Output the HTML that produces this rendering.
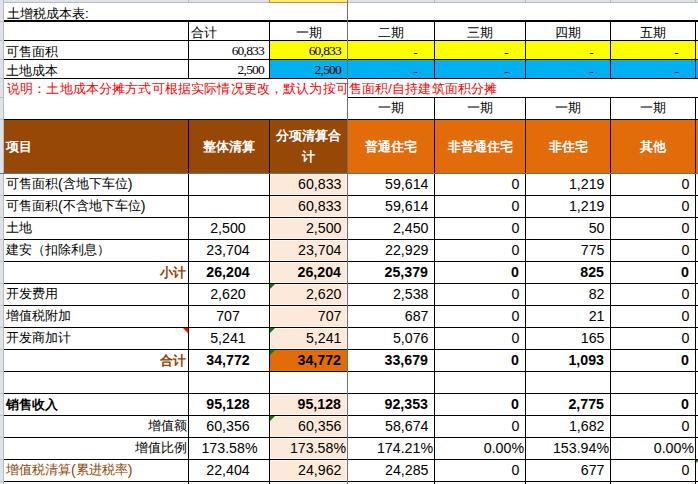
<!DOCTYPE html>
<html><head><meta charset="utf-8"><style>
html,body{margin:0;padding:0;}
body{width:698px;height:484px;position:relative;overflow:hidden;background:#fff;font-family:"Liberation Sans",sans-serif;}
body>div{position:absolute;box-sizing:border-box;}
.t{white-space:nowrap;overflow:visible;}
</style></head><body>
<div style="left:0px;top:0px;width:698px;height:484px;background:#fff"></div>
<div style="left:270px;top:41px;width:77px;height:18px;background:#ffff00"></div>
<div style="left:348px;top:41px;width:86px;height:18px;background:#ffff00"></div>
<div style="left:435px;top:41px;width:90px;height:18px;background:#ffff00"></div>
<div style="left:526px;top:41px;width:84px;height:18px;background:#ffff00"></div>
<div style="left:611px;top:41px;width:84px;height:18px;background:#ffff00"></div>
<div style="left:696px;top:41px;width:2px;height:18px;background:#ffff00"></div>
<div style="left:270px;top:60px;width:77px;height:18px;background:#00b0f0"></div>
<div style="left:348px;top:60px;width:86px;height:18px;background:#00b0f0"></div>
<div style="left:435px;top:60px;width:90px;height:18px;background:#00b0f0"></div>
<div style="left:526px;top:60px;width:84px;height:18px;background:#00b0f0"></div>
<div style="left:611px;top:60px;width:84px;height:18px;background:#00b0f0"></div>
<div style="left:696px;top:60px;width:2px;height:18px;background:#00b0f0"></div>
<div style="left:4px;top:120px;width:343px;height:53px;background:#974706"></div>
<div style="left:348px;top:120px;width:350px;height:53px;background:#e26b0a"></div>
<div style="left:270px;top:174px;width:77px;height:21px;background:#fff5ec"></div>
<div style="left:271px;top:175px;width:75px;height:19px;background:#fde9d9"></div>
<div style="left:270px;top:196px;width:77px;height:21px;background:#fff5ec"></div>
<div style="left:271px;top:197px;width:75px;height:19px;background:#fde9d9"></div>
<div style="left:270px;top:218px;width:77px;height:21px;background:#fff5ec"></div>
<div style="left:271px;top:219px;width:75px;height:19px;background:#fde9d9"></div>
<div style="left:270px;top:240px;width:77px;height:21px;background:#fff5ec"></div>
<div style="left:271px;top:241px;width:75px;height:19px;background:#fde9d9"></div>
<div style="left:270px;top:262px;width:77px;height:21px;background:#fff5ec"></div>
<div style="left:271px;top:263px;width:75px;height:19px;background:#fde9d9"></div>
<div style="left:270px;top:284px;width:77px;height:21px;background:#fff5ec"></div>
<div style="left:271px;top:285px;width:75px;height:19px;background:#fde9d9"></div>
<div style="left:270px;top:306px;width:77px;height:21px;background:#fff5ec"></div>
<div style="left:271px;top:307px;width:75px;height:19px;background:#fde9d9"></div>
<div style="left:270px;top:328px;width:77px;height:21px;background:#fff5ec"></div>
<div style="left:271px;top:329px;width:75px;height:19px;background:#fde9d9"></div>
<div style="left:270px;top:350px;width:77px;height:21px;background:#e26b0a"></div>
<div style="left:270px;top:372px;width:77px;height:21px;background:#fff"></div>
<div style="left:270px;top:394px;width:77px;height:21px;background:#fff5ec"></div>
<div style="left:271px;top:395px;width:75px;height:19px;background:#fde9d9"></div>
<div style="left:270px;top:416px;width:77px;height:21px;background:#fff5ec"></div>
<div style="left:271px;top:417px;width:75px;height:19px;background:#fde9d9"></div>
<div style="left:270px;top:438px;width:77px;height:21px;background:#fff5ec"></div>
<div style="left:271px;top:439px;width:75px;height:19px;background:#fde9d9"></div>
<div style="left:270px;top:460px;width:77px;height:21px;background:#fff5ec"></div>
<div style="left:271px;top:461px;width:75px;height:19px;background:#fde9d9"></div>
<div style="left:0px;top:0px;width:698px;height:2px;background:#dfe3e8"></div>
<div style="left:0px;top:2px;width:698px;height:1px;background:#b9bdc2"></div>
<div style="left:0px;top:0px;width:3px;height:484px;background:#dfe3e8"></div>
<div style="left:3px;top:0px;width:1px;height:484px;background:#b9bdc2"></div>
<div style="left:188px;top:0px;width:1px;height:2px;background:#b9bdc2"></div>
<div style="left:434px;top:0px;width:1px;height:2px;background:#b9bdc2"></div>
<div style="left:525px;top:0px;width:1px;height:2px;background:#b9bdc2"></div>
<div style="left:610px;top:0px;width:1px;height:2px;background:#b9bdc2"></div>
<div style="left:695px;top:0px;width:1px;height:2px;background:#b9bdc2"></div>
<div style="left:269px;top:0px;width:78px;height:3px;background:#ffe97a"></div>
<div style="left:269px;top:0px;width:1px;height:3px;background:#d18c2a"></div>
<div style="left:269px;top:2px;width:78px;height:1px;background:#d18c2a"></div>
<div style="left:0px;top:21px;width:3px;height:1px;background:#b9bdc2"></div>
<div style="left:0px;top:40px;width:3px;height:1px;background:#b9bdc2"></div>
<div style="left:0px;top:59px;width:3px;height:1px;background:#b9bdc2"></div>
<div style="left:0px;top:78px;width:3px;height:1px;background:#b9bdc2"></div>
<div style="left:0px;top:97px;width:3px;height:1px;background:#b9bdc2"></div>
<div style="left:0px;top:119px;width:3px;height:1px;background:#b9bdc2"></div>
<div style="left:0px;top:195px;width:3px;height:1px;background:#b9bdc2"></div>
<div style="left:0px;top:217px;width:3px;height:1px;background:#b9bdc2"></div>
<div style="left:0px;top:239px;width:3px;height:1px;background:#b9bdc2"></div>
<div style="left:0px;top:261px;width:3px;height:1px;background:#b9bdc2"></div>
<div style="left:0px;top:283px;width:3px;height:1px;background:#b9bdc2"></div>
<div style="left:0px;top:305px;width:3px;height:1px;background:#b9bdc2"></div>
<div style="left:0px;top:327px;width:3px;height:1px;background:#b9bdc2"></div>
<div style="left:0px;top:349px;width:3px;height:1px;background:#b9bdc2"></div>
<div style="left:0px;top:371px;width:3px;height:1px;background:#b9bdc2"></div>
<div style="left:0px;top:393px;width:3px;height:1px;background:#b9bdc2"></div>
<div style="left:0px;top:415px;width:3px;height:1px;background:#b9bdc2"></div>
<div style="left:0px;top:437px;width:3px;height:1px;background:#b9bdc2"></div>
<div style="left:0px;top:459px;width:3px;height:1px;background:#b9bdc2"></div>
<div style="left:0px;top:481px;width:3px;height:1px;background:#b9bdc2"></div>
<div style="left:4px;top:20px;width:694px;height:2px;background:#000"></div>
<div style="left:4px;top:40px;width:694px;height:1px;background:#000"></div>
<div style="left:4px;top:59px;width:694px;height:1px;background:#000"></div>
<div style="left:4px;top:78px;width:694px;height:1px;background:#000"></div>
<div style="left:348px;top:97px;width:350px;height:1px;background:#000"></div>
<div style="left:4px;top:119px;width:694px;height:1px;background:#000"></div>
<div style="left:4px;top:195px;width:694px;height:1px;background:#000"></div>
<div style="left:4px;top:217px;width:694px;height:1px;background:#000"></div>
<div style="left:4px;top:239px;width:694px;height:1px;background:#000"></div>
<div style="left:4px;top:261px;width:694px;height:1px;background:#000"></div>
<div style="left:4px;top:283px;width:694px;height:1px;background:#000"></div>
<div style="left:4px;top:305px;width:694px;height:1px;background:#000"></div>
<div style="left:4px;top:327px;width:694px;height:1px;background:#000"></div>
<div style="left:4px;top:349px;width:694px;height:1px;background:#000"></div>
<div style="left:4px;top:371px;width:694px;height:1px;background:#000"></div>
<div style="left:4px;top:393px;width:694px;height:1px;background:#000"></div>
<div style="left:4px;top:415px;width:694px;height:1px;background:#000"></div>
<div style="left:4px;top:437px;width:694px;height:1px;background:#000"></div>
<div style="left:4px;top:459px;width:694px;height:1px;background:#000"></div>
<div style="left:4px;top:481px;width:694px;height:1px;background:#000"></div>
<div style="left:188px;top:22px;width:1px;height:56px;background:#000"></div>
<div style="left:269px;top:22px;width:1px;height:56px;background:#000"></div>
<div style="left:434px;top:22px;width:1px;height:56px;background:#000"></div>
<div style="left:525px;top:22px;width:1px;height:56px;background:#000"></div>
<div style="left:610px;top:22px;width:1px;height:56px;background:#000"></div>
<div style="left:695px;top:22px;width:1px;height:56px;background:#000"></div>
<div style="left:434px;top:98px;width:1px;height:21px;background:#000"></div>
<div style="left:525px;top:98px;width:1px;height:21px;background:#000"></div>
<div style="left:610px;top:98px;width:1px;height:21px;background:#000"></div>
<div style="left:695px;top:98px;width:1px;height:21px;background:#000"></div>
<div style="left:188px;top:120px;width:1px;height:364px;background:#000"></div>
<div style="left:269px;top:120px;width:1px;height:364px;background:#000"></div>
<div style="left:434px;top:120px;width:1px;height:364px;background:#000"></div>
<div style="left:525px;top:120px;width:1px;height:364px;background:#000"></div>
<div style="left:610px;top:120px;width:1px;height:364px;background:#000"></div>
<div style="left:695px;top:120px;width:1px;height:364px;background:#000"></div>
<div style="left:0px;top:173px;width:698px;height:1px;background:#707070"></div>
<div style="left:347px;top:0px;width:1px;height:484px;background:#707070"></div>
<div class="t" style="left:4px;top:5px;width:183px;height:17px;line-height:17px;text-align:left;color:#000;font-family:'Liberation Sans',sans-serif;font-size:13px;padding-left:3px;">土增税成本表:</div>
<div class="t" style="left:189px;top:24px;width:79px;height:18px;line-height:18px;text-align:left;color:#000;font-family:'Liberation Sans',sans-serif;font-size:13px;padding-left:2px;">合计</div>
<div class="t" style="left:270px;top:24px;width:77px;height:18px;line-height:18px;text-align:center;color:#000;font-family:'Liberation Sans',sans-serif;font-size:13px;">一期</div>
<div class="t" style="left:348px;top:24px;width:86px;height:18px;line-height:18px;text-align:center;color:#000;font-family:'Liberation Sans',sans-serif;font-size:13px;">二期</div>
<div class="t" style="left:435px;top:24px;width:90px;height:18px;line-height:18px;text-align:center;color:#000;font-family:'Liberation Sans',sans-serif;font-size:13px;">三期</div>
<div class="t" style="left:526px;top:24px;width:84px;height:18px;line-height:18px;text-align:center;color:#000;font-family:'Liberation Sans',sans-serif;font-size:13px;">四期</div>
<div class="t" style="left:611px;top:24px;width:84px;height:18px;line-height:18px;text-align:center;color:#000;font-family:'Liberation Sans',sans-serif;font-size:13px;">五期</div>
<div class="t" style="left:4px;top:43px;width:183px;height:18px;line-height:18px;text-align:left;color:#000;font-family:'Liberation Sans',sans-serif;font-size:13px;padding-left:2px;">可售面积</div>
<div class="t" style="left:4px;top:62px;width:183px;height:18px;line-height:18px;text-align:left;color:#000;font-family:'Liberation Sans',sans-serif;font-size:13px;padding-left:2px;">土地成本</div>
<div class="t" style="left:189px;top:42px;width:79px;height:18px;line-height:18px;text-align:right;color:#000;font-family:'Liberation Serif',serif;font-size:13.5px;letter-spacing:-0.8px;padding-right:4px;">60,833</div>
<div class="t" style="left:189px;top:61px;width:79px;height:18px;line-height:18px;text-align:right;color:#000;font-family:'Liberation Serif',serif;font-size:13.5px;letter-spacing:-0.8px;padding-right:4px;">2,500</div>
<div class="t" style="left:270px;top:42px;width:77px;height:18px;line-height:18px;text-align:right;color:#000;font-family:'Liberation Serif',serif;font-size:13.5px;letter-spacing:-0.8px;padding-right:6px;">60,833</div>
<div class="t" style="left:270px;top:61px;width:77px;height:18px;line-height:18px;text-align:right;color:#000;font-family:'Liberation Serif',serif;font-size:13.5px;letter-spacing:-0.8px;padding-right:6px;">2,500</div>
<div class="t" style="left:348px;top:44px;width:86px;height:18px;line-height:18px;text-align:right;color:#000;font-family:'Liberation Serif',serif;font-size:13.5px;letter-spacing:-0.8px;padding-right:17px;">-</div>
<div class="t" style="left:348px;top:63px;width:86px;height:18px;line-height:18px;text-align:right;color:#000;font-family:'Liberation Serif',serif;font-size:13.5px;letter-spacing:-0.8px;padding-right:17px;">-</div>
<div class="t" style="left:435px;top:44px;width:90px;height:18px;line-height:18px;text-align:right;color:#000;font-family:'Liberation Serif',serif;font-size:13.5px;letter-spacing:-0.8px;padding-right:17px;">-</div>
<div class="t" style="left:435px;top:63px;width:90px;height:18px;line-height:18px;text-align:right;color:#000;font-family:'Liberation Serif',serif;font-size:13.5px;letter-spacing:-0.8px;padding-right:17px;">-</div>
<div class="t" style="left:526px;top:44px;width:84px;height:18px;line-height:18px;text-align:right;color:#000;font-family:'Liberation Serif',serif;font-size:13.5px;letter-spacing:-0.8px;padding-right:17px;">-</div>
<div class="t" style="left:526px;top:63px;width:84px;height:18px;line-height:18px;text-align:right;color:#000;font-family:'Liberation Serif',serif;font-size:13.5px;letter-spacing:-0.8px;padding-right:17px;">-</div>
<div class="t" style="left:611px;top:44px;width:84px;height:18px;line-height:18px;text-align:right;color:#000;font-family:'Liberation Serif',serif;font-size:13.5px;letter-spacing:-0.8px;padding-right:17px;">-</div>
<div class="t" style="left:611px;top:63px;width:84px;height:18px;line-height:18px;text-align:right;color:#000;font-family:'Liberation Serif',serif;font-size:13.5px;letter-spacing:-0.8px;padding-right:17px;">-</div>
<div class="t" style="left:4px;top:80px;width:596px;height:18px;line-height:18px;text-align:left;color:#ff0000;font-family:'Liberation Sans',sans-serif;font-size:13px;letter-spacing:0.15px;padding-left:3px;">说明：土地成本分摊方式可根据实际情况更改，默认为按可售面积/自持建筑面积分摊</div>
<div class="t" style="left:348px;top:97px;width:86px;height:21px;line-height:21px;text-align:center;color:#000;font-family:'Liberation Sans',sans-serif;font-size:13px;">一期</div>
<div class="t" style="left:435px;top:97px;width:90px;height:21px;line-height:21px;text-align:center;color:#000;font-family:'Liberation Sans',sans-serif;font-size:13px;">一期</div>
<div class="t" style="left:526px;top:97px;width:84px;height:21px;line-height:21px;text-align:center;color:#000;font-family:'Liberation Sans',sans-serif;font-size:13px;">一期</div>
<div class="t" style="left:611px;top:97px;width:84px;height:21px;line-height:21px;text-align:center;color:#000;font-family:'Liberation Sans',sans-serif;font-size:13px;">一期</div>
<div class="t" style="left:4px;top:120px;width:184px;height:53px;line-height:53px;text-align:left;color:#fff;font-family:'Liberation Sans',sans-serif;font-size:13.45px;font-weight:bold;padding-left:2px;">项目</div>
<div class="t" style="left:189px;top:120px;width:80px;height:53px;line-height:53px;text-align:center;color:#fff;font-family:'Liberation Sans',sans-serif;font-size:13.45px;font-weight:bold;">整体清算</div>
<div class="t" style="left:270px;top:125px;width:77px;height:42px;line-height:21px;text-align:center;color:#fff;font-family:'Liberation Sans',sans-serif;font-size:13.45px;font-weight:bold;white-space:normal">分项清算合<br>计</div>
<div class="t" style="left:348px;top:120px;width:86px;height:53px;line-height:53px;text-align:center;color:#fff;font-family:'Liberation Sans',sans-serif;font-size:13.45px;font-weight:bold;">普通住宅</div>
<div class="t" style="left:435px;top:120px;width:90px;height:53px;line-height:53px;text-align:center;color:#fff;font-family:'Liberation Sans',sans-serif;font-size:13.45px;font-weight:bold;">非普通住宅</div>
<div class="t" style="left:526px;top:120px;width:84px;height:53px;line-height:53px;text-align:center;color:#fff;font-family:'Liberation Sans',sans-serif;font-size:13.45px;font-weight:bold;">非住宅</div>
<div class="t" style="left:611px;top:120px;width:84px;height:53px;line-height:53px;text-align:center;color:#fff;font-family:'Liberation Sans',sans-serif;font-size:13.45px;font-weight:bold;">其他</div>
<div class="t" style="left:4px;top:174px;width:184px;height:21px;line-height:21px;text-align:left;color:#000;font-family:'Liberation Sans',sans-serif;font-size:14.2px;padding-left:2px;"><span style="font-size:13px;position:relative;top:-1px;">可售面积</span>(<span style="font-size:13px;position:relative;top:-1px;">含地下车位</span>)</div>
<div class="t" style="left:188px;top:174px;width:80px;height:21px;line-height:21px;text-align:center;color:#000;font-family:'Liberation Sans',sans-serif;font-size:14.2px;"></div>
<div class="t" style="left:270px;top:174px;width:77px;height:21px;line-height:21px;text-align:right;color:#000;font-family:'Liberation Sans',sans-serif;font-size:14.2px;padding-right:5.5px;">60,833</div>
<div class="t" style="left:348px;top:174px;width:86px;height:21px;line-height:21px;text-align:right;color:#000;font-family:'Liberation Sans',sans-serif;font-size:14.2px;padding-right:5.5px;">59,614</div>
<div class="t" style="left:435px;top:174px;width:90px;height:21px;line-height:21px;text-align:right;color:#000;font-family:'Liberation Sans',sans-serif;font-size:14.2px;padding-right:5.5px;">0</div>
<div class="t" style="left:526px;top:174px;width:84px;height:21px;line-height:21px;text-align:right;color:#000;font-family:'Liberation Sans',sans-serif;font-size:14.2px;padding-right:5.5px;">1,219</div>
<div class="t" style="left:611px;top:174px;width:84px;height:21px;line-height:21px;text-align:right;color:#000;font-family:'Liberation Sans',sans-serif;font-size:14.2px;padding-right:5.5px;">0</div>
<div class="t" style="left:4px;top:196px;width:184px;height:21px;line-height:21px;text-align:left;color:#000;font-family:'Liberation Sans',sans-serif;font-size:14.2px;padding-left:2px;"><span style="font-size:13px;position:relative;top:-1px;">可售面积</span>(<span style="font-size:13px;position:relative;top:-1px;">不含地下车位</span>)</div>
<div class="t" style="left:188px;top:196px;width:80px;height:21px;line-height:21px;text-align:center;color:#000;font-family:'Liberation Sans',sans-serif;font-size:14.2px;"></div>
<div class="t" style="left:270px;top:196px;width:77px;height:21px;line-height:21px;text-align:right;color:#000;font-family:'Liberation Sans',sans-serif;font-size:14.2px;padding-right:5.5px;">60,833</div>
<div class="t" style="left:348px;top:196px;width:86px;height:21px;line-height:21px;text-align:right;color:#000;font-family:'Liberation Sans',sans-serif;font-size:14.2px;padding-right:5.5px;">59,614</div>
<div class="t" style="left:435px;top:196px;width:90px;height:21px;line-height:21px;text-align:right;color:#000;font-family:'Liberation Sans',sans-serif;font-size:14.2px;padding-right:5.5px;">0</div>
<div class="t" style="left:526px;top:196px;width:84px;height:21px;line-height:21px;text-align:right;color:#000;font-family:'Liberation Sans',sans-serif;font-size:14.2px;padding-right:5.5px;">1,219</div>
<div class="t" style="left:611px;top:196px;width:84px;height:21px;line-height:21px;text-align:right;color:#000;font-family:'Liberation Sans',sans-serif;font-size:14.2px;padding-right:5.5px;">0</div>
<div class="t" style="left:4px;top:218px;width:184px;height:21px;line-height:21px;text-align:left;color:#000;font-family:'Liberation Sans',sans-serif;font-size:14.2px;padding-left:2px;"><span style="font-size:13px;position:relative;top:-1px;">土地</span></div>
<div class="t" style="left:188px;top:218px;width:80px;height:21px;line-height:21px;text-align:center;color:#000;font-family:'Liberation Sans',sans-serif;font-size:14.2px;">2,500</div>
<div class="t" style="left:270px;top:218px;width:77px;height:21px;line-height:21px;text-align:right;color:#000;font-family:'Liberation Sans',sans-serif;font-size:14.2px;padding-right:5.5px;">2,500</div>
<div class="t" style="left:348px;top:218px;width:86px;height:21px;line-height:21px;text-align:right;color:#000;font-family:'Liberation Sans',sans-serif;font-size:14.2px;padding-right:5.5px;">2,450</div>
<div class="t" style="left:435px;top:218px;width:90px;height:21px;line-height:21px;text-align:right;color:#000;font-family:'Liberation Sans',sans-serif;font-size:14.2px;padding-right:5.5px;">0</div>
<div class="t" style="left:526px;top:218px;width:84px;height:21px;line-height:21px;text-align:right;color:#000;font-family:'Liberation Sans',sans-serif;font-size:14.2px;padding-right:5.5px;">50</div>
<div class="t" style="left:611px;top:218px;width:84px;height:21px;line-height:21px;text-align:right;color:#000;font-family:'Liberation Sans',sans-serif;font-size:14.2px;padding-right:5.5px;">0</div>
<div class="t" style="left:4px;top:240px;width:184px;height:21px;line-height:21px;text-align:left;color:#000;font-family:'Liberation Sans',sans-serif;font-size:14.2px;padding-left:2px;"><span style="font-size:13px;position:relative;top:-1px;">建安（扣除利息）</span></div>
<div class="t" style="left:188px;top:240px;width:80px;height:21px;line-height:21px;text-align:center;color:#000;font-family:'Liberation Sans',sans-serif;font-size:14.2px;">23,704</div>
<div class="t" style="left:270px;top:240px;width:77px;height:21px;line-height:21px;text-align:right;color:#000;font-family:'Liberation Sans',sans-serif;font-size:14.2px;padding-right:5.5px;">23,704</div>
<div class="t" style="left:348px;top:240px;width:86px;height:21px;line-height:21px;text-align:right;color:#000;font-family:'Liberation Sans',sans-serif;font-size:14.2px;padding-right:5.5px;">22,929</div>
<div class="t" style="left:435px;top:240px;width:90px;height:21px;line-height:21px;text-align:right;color:#000;font-family:'Liberation Sans',sans-serif;font-size:14.2px;padding-right:5.5px;">0</div>
<div class="t" style="left:526px;top:240px;width:84px;height:21px;line-height:21px;text-align:right;color:#000;font-family:'Liberation Sans',sans-serif;font-size:14.2px;padding-right:5.5px;">775</div>
<div class="t" style="left:611px;top:240px;width:84px;height:21px;line-height:21px;text-align:right;color:#000;font-family:'Liberation Sans',sans-serif;font-size:14.2px;padding-right:5.5px;">0</div>
<div class="t" style="left:4px;top:262px;width:184px;height:21px;line-height:21px;text-align:right;color:#904506;font-family:'Liberation Sans',sans-serif;font-size:14.2px;font-weight:bold;padding-right:2px;"><span style="font-size:13px;position:relative;top:0px;">小计</span></div>
<div class="t" style="left:188px;top:262px;width:80px;height:21px;line-height:21px;text-align:center;color:#000;font-family:'Liberation Sans',sans-serif;font-size:14.2px;font-weight:bold;">26,204</div>
<div class="t" style="left:270px;top:262px;width:77px;height:21px;line-height:21px;text-align:right;color:#000;font-family:'Liberation Sans',sans-serif;font-size:14.2px;font-weight:bold;padding-right:6.0px;">26,204</div>
<div class="t" style="left:348px;top:262px;width:86px;height:21px;line-height:21px;text-align:right;color:#000;font-family:'Liberation Sans',sans-serif;font-size:14.2px;font-weight:bold;padding-right:6.0px;">25,379</div>
<div class="t" style="left:435px;top:262px;width:90px;height:21px;line-height:21px;text-align:right;color:#000;font-family:'Liberation Sans',sans-serif;font-size:14.2px;font-weight:bold;padding-right:6.0px;">0</div>
<div class="t" style="left:526px;top:262px;width:84px;height:21px;line-height:21px;text-align:right;color:#000;font-family:'Liberation Sans',sans-serif;font-size:14.2px;font-weight:bold;padding-right:6.0px;">825</div>
<div class="t" style="left:611px;top:262px;width:84px;height:21px;line-height:21px;text-align:right;color:#000;font-family:'Liberation Sans',sans-serif;font-size:14.2px;font-weight:bold;padding-right:6.0px;">0</div>
<div class="t" style="left:4px;top:284px;width:184px;height:21px;line-height:21px;text-align:left;color:#000;font-family:'Liberation Sans',sans-serif;font-size:14.2px;padding-left:2px;"><span style="font-size:13px;position:relative;top:-1px;">开发费用</span></div>
<div class="t" style="left:188px;top:284px;width:80px;height:21px;line-height:21px;text-align:center;color:#000;font-family:'Liberation Sans',sans-serif;font-size:14.2px;">2,620</div>
<div class="t" style="left:270px;top:284px;width:77px;height:21px;line-height:21px;text-align:right;color:#000;font-family:'Liberation Sans',sans-serif;font-size:14.2px;padding-right:5.5px;">2,620</div>
<div class="t" style="left:348px;top:284px;width:86px;height:21px;line-height:21px;text-align:right;color:#000;font-family:'Liberation Sans',sans-serif;font-size:14.2px;padding-right:5.5px;">2,538</div>
<div class="t" style="left:435px;top:284px;width:90px;height:21px;line-height:21px;text-align:right;color:#000;font-family:'Liberation Sans',sans-serif;font-size:14.2px;padding-right:5.5px;">0</div>
<div class="t" style="left:526px;top:284px;width:84px;height:21px;line-height:21px;text-align:right;color:#000;font-family:'Liberation Sans',sans-serif;font-size:14.2px;padding-right:5.5px;">82</div>
<div class="t" style="left:611px;top:284px;width:84px;height:21px;line-height:21px;text-align:right;color:#000;font-family:'Liberation Sans',sans-serif;font-size:14.2px;padding-right:5.5px;">0</div>
<div class="t" style="left:4px;top:306px;width:184px;height:21px;line-height:21px;text-align:left;color:#000;font-family:'Liberation Sans',sans-serif;font-size:14.2px;padding-left:2px;"><span style="font-size:13px;position:relative;top:-1px;">增值税附加</span></div>
<div class="t" style="left:188px;top:306px;width:80px;height:21px;line-height:21px;text-align:center;color:#000;font-family:'Liberation Sans',sans-serif;font-size:14.2px;">707</div>
<div class="t" style="left:270px;top:306px;width:77px;height:21px;line-height:21px;text-align:right;color:#000;font-family:'Liberation Sans',sans-serif;font-size:14.2px;padding-right:5.5px;">707</div>
<div class="t" style="left:348px;top:306px;width:86px;height:21px;line-height:21px;text-align:right;color:#000;font-family:'Liberation Sans',sans-serif;font-size:14.2px;padding-right:5.5px;">687</div>
<div class="t" style="left:435px;top:306px;width:90px;height:21px;line-height:21px;text-align:right;color:#000;font-family:'Liberation Sans',sans-serif;font-size:14.2px;padding-right:5.5px;">0</div>
<div class="t" style="left:526px;top:306px;width:84px;height:21px;line-height:21px;text-align:right;color:#000;font-family:'Liberation Sans',sans-serif;font-size:14.2px;padding-right:5.5px;">21</div>
<div class="t" style="left:611px;top:306px;width:84px;height:21px;line-height:21px;text-align:right;color:#000;font-family:'Liberation Sans',sans-serif;font-size:14.2px;padding-right:5.5px;">0</div>
<div class="t" style="left:4px;top:328px;width:184px;height:21px;line-height:21px;text-align:left;color:#000;font-family:'Liberation Sans',sans-serif;font-size:14.2px;padding-left:2px;"><span style="font-size:13px;position:relative;top:-1px;">开发商加计</span></div>
<div class="t" style="left:188px;top:328px;width:80px;height:21px;line-height:21px;text-align:center;color:#000;font-family:'Liberation Sans',sans-serif;font-size:14.2px;">5,241</div>
<div class="t" style="left:270px;top:328px;width:77px;height:21px;line-height:21px;text-align:right;color:#000;font-family:'Liberation Sans',sans-serif;font-size:14.2px;padding-right:5.5px;">5,241</div>
<div class="t" style="left:348px;top:328px;width:86px;height:21px;line-height:21px;text-align:right;color:#000;font-family:'Liberation Sans',sans-serif;font-size:14.2px;padding-right:5.5px;">5,076</div>
<div class="t" style="left:435px;top:328px;width:90px;height:21px;line-height:21px;text-align:right;color:#000;font-family:'Liberation Sans',sans-serif;font-size:14.2px;padding-right:5.5px;">0</div>
<div class="t" style="left:526px;top:328px;width:84px;height:21px;line-height:21px;text-align:right;color:#000;font-family:'Liberation Sans',sans-serif;font-size:14.2px;padding-right:5.5px;">165</div>
<div class="t" style="left:611px;top:328px;width:84px;height:21px;line-height:21px;text-align:right;color:#000;font-family:'Liberation Sans',sans-serif;font-size:14.2px;padding-right:5.5px;">0</div>
<div class="t" style="left:4px;top:350px;width:184px;height:21px;line-height:21px;text-align:right;color:#904506;font-family:'Liberation Sans',sans-serif;font-size:14.2px;font-weight:bold;padding-right:2px;"><span style="font-size:13px;position:relative;top:0px;">合计</span></div>
<div class="t" style="left:188px;top:350px;width:80px;height:21px;line-height:21px;text-align:center;color:#000;font-family:'Liberation Sans',sans-serif;font-size:14.2px;font-weight:bold;">34,772</div>
<div class="t" style="left:270px;top:350px;width:77px;height:21px;line-height:21px;text-align:right;color:#000;font-family:'Liberation Sans',sans-serif;font-size:14.2px;font-weight:bold;padding-right:6.0px;">34,772</div>
<div class="t" style="left:348px;top:350px;width:86px;height:21px;line-height:21px;text-align:right;color:#000;font-family:'Liberation Sans',sans-serif;font-size:14.2px;font-weight:bold;padding-right:6.0px;">33,679</div>
<div class="t" style="left:435px;top:350px;width:90px;height:21px;line-height:21px;text-align:right;color:#000;font-family:'Liberation Sans',sans-serif;font-size:14.2px;font-weight:bold;padding-right:6.0px;">0</div>
<div class="t" style="left:526px;top:350px;width:84px;height:21px;line-height:21px;text-align:right;color:#000;font-family:'Liberation Sans',sans-serif;font-size:14.2px;font-weight:bold;padding-right:6.0px;">1,093</div>
<div class="t" style="left:611px;top:350px;width:84px;height:21px;line-height:21px;text-align:right;color:#000;font-family:'Liberation Sans',sans-serif;font-size:14.2px;font-weight:bold;padding-right:6.0px;">0</div>
<div class="t" style="left:4px;top:372px;width:184px;height:21px;line-height:21px;text-align:left;color:#000;font-family:'Liberation Sans',sans-serif;font-size:14.2px;padding-left:2px;"></div>
<div class="t" style="left:188px;top:372px;width:80px;height:21px;line-height:21px;text-align:center;color:#000;font-family:'Liberation Sans',sans-serif;font-size:14.2px;"></div>
<div class="t" style="left:270px;top:372px;width:77px;height:21px;line-height:21px;text-align:right;color:#000;font-family:'Liberation Sans',sans-serif;font-size:14.2px;padding-right:5.5px;"></div>
<div class="t" style="left:348px;top:372px;width:86px;height:21px;line-height:21px;text-align:right;color:#000;font-family:'Liberation Sans',sans-serif;font-size:14.2px;padding-right:5.5px;"></div>
<div class="t" style="left:435px;top:372px;width:90px;height:21px;line-height:21px;text-align:right;color:#000;font-family:'Liberation Sans',sans-serif;font-size:14.2px;padding-right:5.5px;"></div>
<div class="t" style="left:526px;top:372px;width:84px;height:21px;line-height:21px;text-align:right;color:#000;font-family:'Liberation Sans',sans-serif;font-size:14.2px;padding-right:5.5px;"></div>
<div class="t" style="left:611px;top:372px;width:84px;height:21px;line-height:21px;text-align:right;color:#000;font-family:'Liberation Sans',sans-serif;font-size:14.2px;padding-right:5.5px;"></div>
<div class="t" style="left:4px;top:394px;width:184px;height:21px;line-height:21px;text-align:left;color:#000;font-family:'Liberation Sans',sans-serif;font-size:14.2px;font-weight:bold;padding-left:2px;"><span style="font-size:13px;position:relative;top:0px;">销售收入</span></div>
<div class="t" style="left:188px;top:394px;width:80px;height:21px;line-height:21px;text-align:center;color:#000;font-family:'Liberation Sans',sans-serif;font-size:14.2px;font-weight:bold;">95,128</div>
<div class="t" style="left:270px;top:394px;width:77px;height:21px;line-height:21px;text-align:right;color:#000;font-family:'Liberation Sans',sans-serif;font-size:14.2px;font-weight:bold;padding-right:6.0px;">95,128</div>
<div class="t" style="left:348px;top:394px;width:86px;height:21px;line-height:21px;text-align:right;color:#000;font-family:'Liberation Sans',sans-serif;font-size:14.2px;font-weight:bold;padding-right:6.0px;">92,353</div>
<div class="t" style="left:435px;top:394px;width:90px;height:21px;line-height:21px;text-align:right;color:#000;font-family:'Liberation Sans',sans-serif;font-size:14.2px;font-weight:bold;padding-right:6.0px;">0</div>
<div class="t" style="left:526px;top:394px;width:84px;height:21px;line-height:21px;text-align:right;color:#000;font-family:'Liberation Sans',sans-serif;font-size:14.2px;font-weight:bold;padding-right:6.0px;">2,775</div>
<div class="t" style="left:611px;top:394px;width:84px;height:21px;line-height:21px;text-align:right;color:#000;font-family:'Liberation Sans',sans-serif;font-size:14.2px;font-weight:bold;padding-right:6.0px;">0</div>
<div class="t" style="left:4px;top:416px;width:184px;height:21px;line-height:21px;text-align:right;color:#000;font-family:'Liberation Sans',sans-serif;font-size:14.2px;padding-right:1px;"><span style="font-size:13px;position:relative;top:-1px;">增值额</span></div>
<div class="t" style="left:188px;top:416px;width:80px;height:21px;line-height:21px;text-align:center;color:#000;font-family:'Liberation Sans',sans-serif;font-size:14.2px;">60,356</div>
<div class="t" style="left:270px;top:416px;width:77px;height:21px;line-height:21px;text-align:right;color:#000;font-family:'Liberation Sans',sans-serif;font-size:14.2px;padding-right:5.5px;">60,356</div>
<div class="t" style="left:348px;top:416px;width:86px;height:21px;line-height:21px;text-align:right;color:#000;font-family:'Liberation Sans',sans-serif;font-size:14.2px;padding-right:5.5px;">58,674</div>
<div class="t" style="left:435px;top:416px;width:90px;height:21px;line-height:21px;text-align:right;color:#000;font-family:'Liberation Sans',sans-serif;font-size:14.2px;padding-right:5.5px;">0</div>
<div class="t" style="left:526px;top:416px;width:84px;height:21px;line-height:21px;text-align:right;color:#000;font-family:'Liberation Sans',sans-serif;font-size:14.2px;padding-right:5.5px;">1,682</div>
<div class="t" style="left:611px;top:416px;width:84px;height:21px;line-height:21px;text-align:right;color:#000;font-family:'Liberation Sans',sans-serif;font-size:14.2px;padding-right:5.5px;">0</div>
<div class="t" style="left:4px;top:438px;width:184px;height:21px;line-height:21px;text-align:right;color:#000;font-family:'Liberation Sans',sans-serif;font-size:14.2px;padding-right:1px;"><span style="font-size:13px;position:relative;top:-1px;">增值比例</span></div>
<div class="t" style="left:189px;top:438px;width:81px;height:21px;line-height:21px;text-align:center;color:#000;font-family:'Liberation Sans',sans-serif;font-size:14.2px;">173.58%</div>
<div class="t" style="left:270px;top:438px;width:77px;height:21px;line-height:21px;text-align:right;color:#000;font-family:'Liberation Sans',sans-serif;font-size:14.2px;padding-right:1px;">173.58%</div>
<div class="t" style="left:348px;top:438px;width:86px;height:21px;line-height:21px;text-align:right;color:#000;font-family:'Liberation Sans',sans-serif;font-size:14.2px;padding-right:1px;">174.21%</div>
<div class="t" style="left:435px;top:438px;width:90px;height:21px;line-height:21px;text-align:right;color:#000;font-family:'Liberation Sans',sans-serif;font-size:14.2px;padding-right:1px;">0.00%</div>
<div class="t" style="left:526px;top:438px;width:84px;height:21px;line-height:21px;text-align:right;color:#000;font-family:'Liberation Sans',sans-serif;font-size:14.2px;padding-right:1px;">153.94%</div>
<div class="t" style="left:611px;top:438px;width:84px;height:21px;line-height:21px;text-align:right;color:#000;font-family:'Liberation Sans',sans-serif;font-size:14.2px;padding-right:1px;">0.00%</div>
<div class="t" style="left:4px;top:460px;width:184px;height:21px;line-height:21px;text-align:left;color:#904506;font-family:'Liberation Sans',sans-serif;font-size:14.2px;padding-left:2px;"><span style="font-size:13px;position:relative;top:-1px;">增值税清算</span>(<span style="font-size:13px;position:relative;top:-1px;">累进税率</span>)</div>
<div class="t" style="left:188px;top:460px;width:80px;height:21px;line-height:21px;text-align:center;color:#000;font-family:'Liberation Sans',sans-serif;font-size:14.2px;">22,404</div>
<div class="t" style="left:270px;top:460px;width:77px;height:21px;line-height:21px;text-align:right;color:#000;font-family:'Liberation Sans',sans-serif;font-size:14.2px;padding-right:5.5px;">24,962</div>
<div class="t" style="left:348px;top:460px;width:86px;height:21px;line-height:21px;text-align:right;color:#000;font-family:'Liberation Sans',sans-serif;font-size:14.2px;padding-right:5.5px;">24,285</div>
<div class="t" style="left:435px;top:460px;width:90px;height:21px;line-height:21px;text-align:right;color:#000;font-family:'Liberation Sans',sans-serif;font-size:14.2px;padding-right:5.5px;">0</div>
<div class="t" style="left:526px;top:460px;width:84px;height:21px;line-height:21px;text-align:right;color:#000;font-family:'Liberation Sans',sans-serif;font-size:14.2px;padding-right:5.5px;">677</div>
<div class="t" style="left:611px;top:460px;width:84px;height:21px;line-height:21px;text-align:right;color:#000;font-family:'Liberation Sans',sans-serif;font-size:14.2px;padding-right:5.5px;">0</div>
<div style="left:270px;top:284px;width:0;height:0;border-top:5px solid #008000;border-right:5px solid transparent"></div>
<div style="left:270px;top:328px;width:0;height:0;border-top:5px solid #008000;border-right:5px solid transparent"></div>
<div style="left:270px;top:350px;width:0;height:0;border-top:5px solid #008000;border-right:5px solid transparent"></div>
<div style="left:270px;top:416px;width:0;height:0;border-top:5px solid #008000;border-right:5px solid transparent"></div>
<div style="left:183px;top:328px;width:0;height:0;border-top:5px solid #ff0000;border-left:5px solid transparent"></div>
<div style="left:696px;top:460px;width:0;height:0;border-top:3px solid #008000;border-right:3px solid transparent"></div>
</body></html>
